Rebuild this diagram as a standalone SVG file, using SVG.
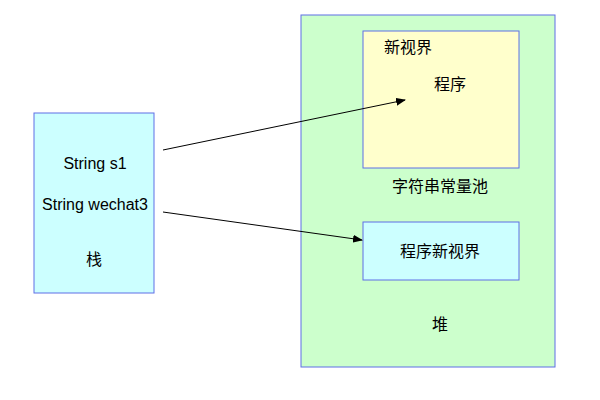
<svg xmlns="http://www.w3.org/2000/svg" width="600" height="400" viewBox="0 0 600 400">
<style>
.b{stroke:#5f6fe6;stroke-width:1}
text{font-family:"Liberation Sans","Noto Sans CJK SC",sans-serif;font-size:16px;fill:#000;text-anchor:middle}
.c{stroke:#000;stroke-width:1;fill:none;marker-end:url(#a)}
</style>
<defs><marker id="a" markerWidth="10" markerHeight="8" refX="9" refY="4" orient="auto" markerUnits="userSpaceOnUse"><path d="M0,0L10,4L0,8z" fill="#000"/></marker></defs>
<rect width="600" height="400" fill="#fff"/>
<g id="stack"><rect class="b" x="34" y="113" width="120" height="180" fill="#ccffff"/>
<text x="95" y="169">String s1</text><text x="95" y="210">String wechat3</text><text x="94" y="265">栈</text></g>
<g id="heap"><rect class="b" x="301" y="15" width="254" height="352" fill="#ccffcc"/><text x="440" y="330">堆</text></g>
<g id="pool"><rect class="b" x="363" y="31" width="156" height="137" fill="#ffffcc"/>
<text x="408" y="53">新视界</text><text x="450" y="90">程序</text><text x="440" y="192">字符串常量池</text></g>
<g id="str"><rect class="b" x="363" y="222" width="156" height="58" fill="#ccffff"/><text x="440" y="257">程序新视界</text></g>
<g id="connectors"><path class="c" d="M163,150L405,100"/><path class="c" d="M163,212L362,240"/></g>
</svg>
